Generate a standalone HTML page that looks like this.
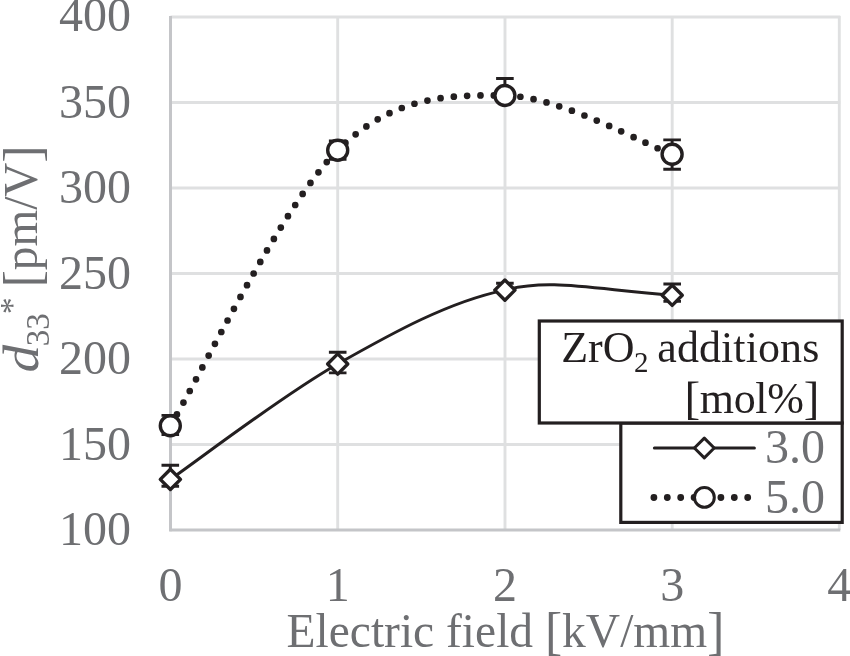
<!DOCTYPE html>
<html lang="en"><head><meta charset="utf-8"><title>d33* vs electric field</title>
<style>html,body{margin:0;padding:0;background:#fff}svg{display:block}text{font-family:"Liberation Serif","Times New Roman",serif}</style></head><body>
<svg width="850" height="656" viewBox="0 0 850 656">
<rect width="850" height="656" fill="#fff"/>
<g stroke="#dfe0e1" stroke-width="2.9" fill="none">
<line x1="170.5" y1="17.0" x2="840.3" y2="17.0"/>
<line x1="170.5" y1="102.5" x2="840.3" y2="102.5"/>
<line x1="170.5" y1="188.0" x2="840.3" y2="188.0"/>
<line x1="170.5" y1="273.5" x2="840.3" y2="273.5"/>
<line x1="170.5" y1="359.0" x2="840.3" y2="359.0"/>
<line x1="170.5" y1="444.5" x2="840.3" y2="444.5"/>
<line x1="337.7" y1="16.0" x2="337.7" y2="530.0"/>
<line x1="505.0" y1="16.0" x2="505.0" y2="530.0"/>
<line x1="672.2" y1="16.0" x2="672.2" y2="530.0"/>
<line x1="839.3" y1="16.0" x2="839.3" y2="530.0"/>
</g>
<g stroke="#c4c5c8" stroke-width="3" fill="none">
<line x1="170.5" y1="16.0" x2="170.5" y2="531.2"/>
<line x1="169.3" y1="530.0" x2="840.3" y2="530.0"/>
</g>
<g fill="#6e6f72" font-size="48">
<text x="131" y="31.2" text-anchor="end">400</text>
<text x="131" y="117.7" text-anchor="end">350</text>
<text x="131" y="203.2" text-anchor="end">300</text>
<text x="131" y="288.7" text-anchor="end">250</text>
<text x="131" y="374.2" text-anchor="end">200</text>
<text x="131" y="459.7" text-anchor="end">150</text>
<text x="131" y="545.2" text-anchor="end">100</text>
<text x="170.5" y="601.3" text-anchor="middle">0</text>
<text x="337.7" y="601.3" text-anchor="middle">1</text>
<text x="505.0" y="601.3" text-anchor="middle">2</text>
<text x="672.2" y="601.3" text-anchor="middle">3</text>
<text x="839.3" y="601.3" text-anchor="middle">4</text>
<text transform="translate(286.6,646.6) scale(0.981,1)" font-size="48.4">Electric field <tspan font-size="52.5" dy="2.2">[</tspan><tspan dy="-2.2">kV/mm</tspan><tspan font-size="52.5" dy="2.2">]</tspan></text>
<text transform="translate(38.3,372.6) rotate(-90) scale(1.1,1)" font-size="50" font-style="italic">d</text>
<text transform="translate(48.6,346.3) rotate(-90)" font-size="33">33</text>
<text transform="translate(22.5,314.2) rotate(-90)" font-size="34">*</text>
<text transform="translate(37.3,287.3) rotate(-90) scale(0.985,1)" font-size="48"><tspan font-size="52" dy="2.6">[</tspan><tspan dy="-2.6">pm/V</tspan><tspan font-size="52" dy="2.6">]</tspan></text>
</g>
<path d="M170.4,479.4 C198.3,460.2 281.9,395.6 337.7,364.0 C393.4,332.4 449.1,301.6 504.9,290.1 C548.9,278.2 590.2,288.7 672.2,295.3" fill="none" stroke="#231f20" stroke-width="3"/>
<path d="M170.3,425.8 C198.2,379.9 281.9,205.2 337.7,150.2 C393.5,95.1 449.2,94.8 504.9,95.5 C560.6,96.2 644.2,144.5 672.1,154.3" fill="none" stroke="#231f20" stroke-width="6.7" stroke-linecap="round" stroke-dasharray="0 13.35"/>
<g stroke="#231f20" stroke-width="2.9" fill="none">
<path d="M170.3,465.3V486.3M161.5,465.3H179.1M161.5,486.3H179.1"/>
<path d="M337.7,352.3V372.9M328.9,352.3H346.5M328.9,372.9H346.5"/>
<path d="M504.9,283.2V290.1M496.1,283.2H513.7M496.1,290.1H513.7"/>
<path d="M672.2,284.0V301.4M663.4,284.0H681.0M663.4,301.4H681.0"/>
<path d="M170.3,415.4V434.6M161.5,415.4H179.1M161.5,434.6H179.1"/>
<path d="M337.7,141.0V159.4M328.9,141.0H346.5M328.9,159.4H346.5"/>
<path d="M504.9,78.5V95.5M496.1,78.5H513.7M496.1,95.5H513.7"/>
<path d="M672.1,139.9V169.2M663.3,139.9H680.9M663.3,169.2H680.9"/>
</g>
<g stroke="#231f20" stroke-width="3.4" fill="#fff" stroke-linejoin="round">
<path d="M170.4,469.3L180.5,479.4L170.4,489.5L160.3,479.4Z"/>
<path d="M337.7,353.9L347.8,364.0L337.7,374.1L327.6,364.0Z"/>
<path d="M504.9,280.0L515.0,290.1L504.9,300.2L494.8,290.1Z"/>
<path d="M672.2,285.2L682.3,295.3L672.2,305.4L662.1,295.3Z"/>
<circle cx="170.3" cy="425.8" r="10"/>
<circle cx="337.7" cy="150.2" r="10"/>
<circle cx="504.9" cy="95.5" r="10"/>
<circle cx="672.1" cy="154.3" r="10"/>
</g>
<g stroke="#231f20" stroke-width="3.2" fill="#fff">
<rect x="620.8" y="423" width="221.4" height="99.4"/>
<rect x="539.3" y="321" width="302.9" height="102"/>
</g>
<g fill="#231f20" font-size="44">
<text x="561.2" y="362.2">ZrO<tspan font-size="29" dy="10.2" dx="-0.6">2</tspan><tspan dy="-10.2" dx="-2.2" letter-spacing="0.08"> additions</tspan></text>
<text x="819" y="413" text-anchor="end" letter-spacing="-0.3"><tspan font-size="47" dy="1.3">[</tspan><tspan dy="-1.3">mol%</tspan><tspan font-size="47" dy="1.3">]</tspan></text>
</g>
<path d="M654.4,448.1H754.4" stroke="#231f20" stroke-width="3" stroke-linecap="round" fill="none"/>
<path d="M653.9,497.5H750" stroke="#231f20" stroke-width="6.8" stroke-linecap="round" stroke-dasharray="0 13.4" fill="none"/>
<path d="M704.3,438.1L714.2,448L704.3,457.9L694.4,448Z" stroke="#231f20" stroke-width="3" stroke-linejoin="round" fill="#fff"/>
<circle cx="704.4" cy="497.4" r="9.9" stroke="#231f20" stroke-width="3" fill="#fff"/>
<g fill="#6e6f72" font-size="48"><text x="765" y="463.1">3.0</text><text x="765" y="513.1">5.0</text></g>
</svg></body></html>
